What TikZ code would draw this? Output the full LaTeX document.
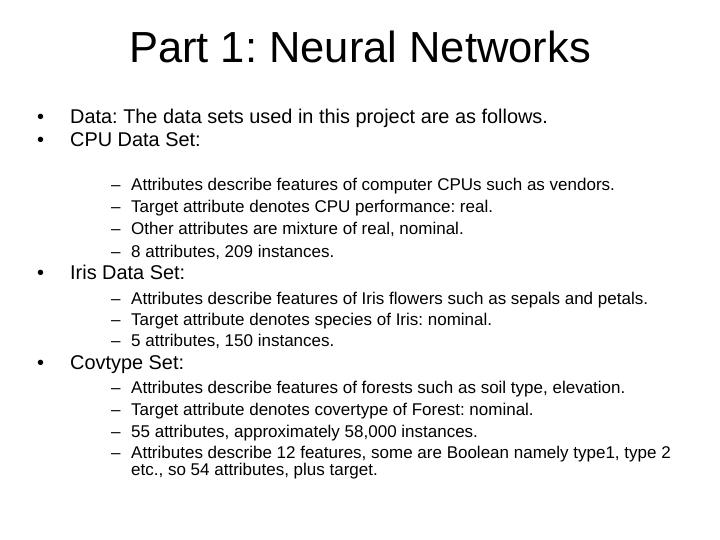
\documentclass[tikz,border=0pt]{standalone}
\usepackage{fontspec}
\setmainfont{Liberation Sans}
\frenchspacing
\begin{document}
\begin{tikzpicture}[x=1pt,y=-1pt,
  lv1/.style={anchor=base west,font=\fontsize{19.9}{22}\selectfont,inner sep=0pt,yshift=-7pt},
  lv2/.style={anchor=base west,font=\fontsize{17}{19}\selectfont,inner sep=0pt,yshift=-6pt}]
\useasboundingbox (0,0) rectangle (720,540);
\node[font=\fontsize{43.5}{46}\selectfont,inner sep=0pt] (title) at (360,47) {Part 1: Neural Networks};
\foreach \n/\y/\t in {a/117/{Data: The data sets used in this project are as follows.},b/140/{CPU Data Set:},c/272/{Iris Data Set:},d/362/{Covtype Set:}}{
  \node[lv1] (b\n) at (37,\y) {•};
  \node[lv1] (t\n) at (70,\y) {\t};
}
\foreach \n/\y/\t in {
 1/185/{Attributes describe features of computer CPUs such as vendors.},
 2/207/{Target attribute denotes CPU performance: real.},
 3/229/{Other attributes are mixture of real, nominal.},
 4/251/{8 attributes, 209 instances.},
 5/298/{Attributes describe features of Iris flowers such as sepals and petals.},
 6/319/{Target attribute denotes species of Iris: nominal.},
 7/340/{5 attributes, 150 instances.},
 8/387/{Attributes describe features of forests such as soil type, elevation.},
 9/409/{Target attribute denotes covertype of Forest: nominal.},
 10/431/{55 attributes, approximately 58,000 instances.},
 11/452/{Attributes describe 12 features, some are Boolean namely type1, type 2}}{
  \node[lv2] (d\n) at (111,\y) {–};
  \node[lv2] (s\n) at (131,\y) {\t};
}
\node[lv2] (s12) at (131,469) {etc., so 54 attributes, plus target.};
\end{tikzpicture}
\end{document}
